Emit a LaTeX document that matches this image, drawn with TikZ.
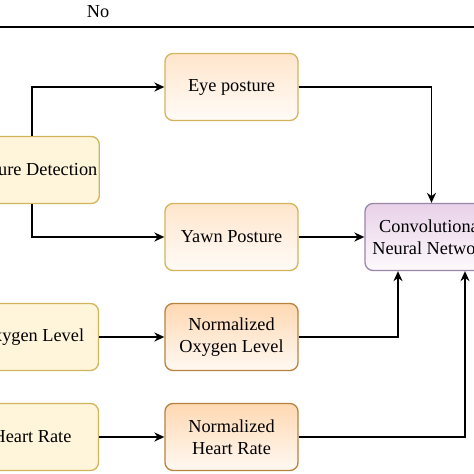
\documentclass[tikz,border=0pt]{standalone}
\usepackage{fontspec}
\setmainfont{Liberation Serif}
\usepackage{tikz}
\usetikzlibrary{arrows.meta}
\usepackage{xcolor}
\definecolor{goldline}{HTML}{D2B55B}
\definecolor{brownline}{HTML}{B8833D}
\definecolor{violetline}{HTML}{9A86A8}
\definecolor{paleyellow}{HTML}{FFF5DB}

\begin{document}
\begin{tikzpicture}[x=1pt,y=-1pt,>={Stealth[length=10pt,width=9pt]},font=\fontsize{18.3}{22}\selectfont,line width=1.7pt,
  box/.style={rounded corners=8pt,minimum width=133pt,minimum height=67pt,align=center,inner sep=2pt,line width=1.3pt},
  inbox/.style={box,draw=goldline,fill=paleyellow},
  featbox/.style={box,draw=goldline,top color=orange!20!white,bottom color=orange!3!white},
  normbox/.style={box,draw=brownline,top color=orange!30!white,bottom color=orange!5!white},
  cnnbox/.style={box,draw=violetline,top color=violet!18!white,bottom color=violet!2!white}]
\useasboundingbox (0,0) rectangle (474,474);
\clip (0,0) rectangle (474,474);
% top bar
\node (no) at (98,12) {No};
\draw[line width=2pt] (0,27) -- (474,27);
% inputs
\node[inbox] (posture) at (32,170) {Posture Detection};
\node[inbox] (oxygen) at (32,337) {Oxygen Level};
\node[inbox] (heart) at (32,437) {Heart Rate};
% features
\node[featbox] (eye) at (231.5,87) {Eye posture};
\node[featbox] (yawn) at (231.5,237) {Yawn Posture};
\node[normbox] (normoxy) at (231.5,337) {Normalized\\Oxygen Level};
\node[normbox] (normheart) at (231.5,437) {Normalized\\Heart Rate};
% classifier
\node[cnnbox] (cnn) at (431.5,237) {Convolutional\\Neural Network};
% connectors
\draw[->] (posture.north) |- (eye.west);
\draw[->] (posture.south) |- (yawn.west);
\draw[->] (oxygen) -- (normoxy);
\draw[->] (heart) -- (normheart);
\draw[->] (eye.east) -| (cnn.north);
\draw[->] (yawn) -- (cnn);
\draw[->] (normoxy.east) -| ([xshift=-33.5pt]cnn.south);
\draw[->] (normheart.east) -| ([xshift=33.5pt]cnn.south);
\end{tikzpicture}
\end{document}
